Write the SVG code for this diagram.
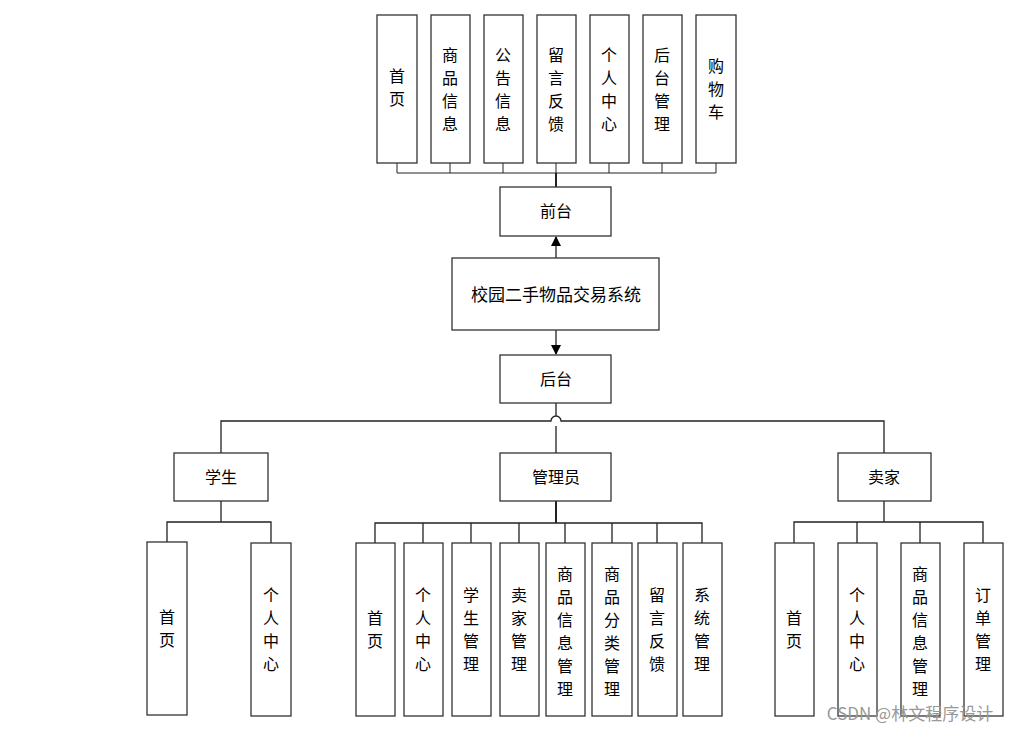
<svg xmlns="http://www.w3.org/2000/svg" width="1022" height="733" viewBox="0 0 1022 733">
<style>
rect{fill:#fff;stroke:#333;stroke-width:1.3}
text{font-family:"Noto Sans CJK SC",sans-serif;font-size:16px;fill:#000;text-anchor:middle}
.c{fill:none;stroke:#222;stroke-width:1.3}
</style>
<defs><marker id="a" viewBox="0 0 10 10" refX="9" refY="5" markerWidth="10" markerHeight="10" markerUnits="userSpaceOnUse" orient="auto"><path d="M0,0L10,5L0,10z" fill="#000"/></marker></defs>
<rect x="0" y="0" width="1022" height="733" style="fill:#fff;stroke:none"/>
<g id="connectors">
<path class="c" d="M397,163V173H716V163M450,163V173M503,163V173M556,163V173M609,163V173M662,163V173M556,173V187" style="stroke-width:1"/>
<path class="c" d="M556,173V187" style="stroke-width:2"/>
<path class="c" d="M556,258V237" marker-end="url(#a)"/>
<path class="c" d="M556,330V354" marker-end="url(#a)"/>
<path class="c" d="M556,403V416M221,453V421H551A5,5 0 0 1 561,421H884V453M556,426V453"/>
<path class="c" d="M221,501V522M167,542V522H271V543"/>
<path class="c" d="M375,543V523H702V543M423,523V543M471,523V543M519,523V543M565,523V543M612,523V543M657,523V543"/>
<path class="c" d="M556,501V523" style="stroke-width:2"/>
<path class="c" d="M884,501V522M794,543V522H983V543M857,522V543M920,522V543"/>
</g>
<g id="top">
<g id="n1"><rect x="377" y="15" width="40" height="148"/><text x="397" y="82">首</text><text x="397" y="105">页</text></g>
<g id="n2"><rect x="431" y="15" width="39" height="148"/><text x="450" y="61">商</text><text x="450" y="84">品</text><text x="450" y="107">信</text><text x="450" y="130">息</text></g>
<g id="n3"><rect x="484" y="15" width="39" height="148"/><text x="503" y="61">公</text><text x="503" y="84">告</text><text x="503" y="107">信</text><text x="503" y="130">息</text></g>
<g id="n4"><rect x="537" y="15" width="39" height="148"/><text x="556" y="61">留</text><text x="556" y="84">言</text><text x="556" y="107">反</text><text x="556" y="130">馈</text></g>
<g id="n5"><rect x="590" y="15" width="39" height="148"/><text x="609" y="61">个</text><text x="609" y="84">人</text><text x="609" y="107">中</text><text x="609" y="130">心</text></g>
<g id="n6"><rect x="643" y="15" width="39" height="148"/><text x="662" y="61">后</text><text x="662" y="84">台</text><text x="662" y="107">管</text><text x="662" y="130">理</text></g>
<g id="n7"><rect x="696" y="15" width="40" height="148"/><text x="716" y="72">购</text><text x="716" y="95">物</text><text x="716" y="118">车</text></g>
</g>
<g id="qt"><rect x="500" y="187" width="111" height="49"/><text x="556" y="217">前台</text></g>
<g id="main"><rect x="452" y="258" width="207" height="72"/><text x="556" y="301" style="font-size:17px">校园二手物品交易系统</text></g>
<g id="ht"><rect x="500" y="355" width="111" height="48"/><text x="556" y="385">后台</text></g>
<g id="xs"><rect x="174" y="453" width="94" height="48"/><text x="221" y="483">学生</text></g>
<g id="gly"><rect x="500" y="453" width="111" height="48"/><text x="556" y="483">管理员</text></g>
<g id="mj"><rect x="838" y="453" width="93" height="48"/><text x="884" y="483">卖家</text></g>
<g id="s1"><rect x="147" y="542" width="40" height="173"/><text x="167" y="623">首</text><text x="167" y="646">页</text></g>
<g id="s2"><rect x="251" y="543" width="40" height="173"/><text x="271" y="601">个</text><text x="271" y="624">人</text><text x="271" y="647">中</text><text x="271" y="670">心</text></g>
<g id="a1"><rect x="356" y="543" width="39" height="173"/><text x="375" y="624">首</text><text x="375" y="647">页</text></g>
<g id="a2"><rect x="404" y="543" width="39" height="173"/><text x="423" y="601">个</text><text x="423" y="624">人</text><text x="423" y="647">中</text><text x="423" y="670">心</text></g>
<g id="a3"><rect x="452" y="543" width="39" height="173"/><text x="471" y="601">学</text><text x="471" y="624">生</text><text x="471" y="647">管</text><text x="471" y="670">理</text></g>
<g id="a4"><rect x="500" y="543" width="39" height="173"/><text x="519" y="601">卖</text><text x="519" y="624">家</text><text x="519" y="647">管</text><text x="519" y="670">理</text></g>
<g id="a5"><rect x="546" y="543" width="39" height="173"/><text x="565" y="580">商</text><text x="565" y="603">品</text><text x="565" y="626">信</text><text x="565" y="649">息</text><text x="565" y="672">管</text><text x="565" y="695">理</text></g>
<g id="a6"><rect x="592" y="543" width="40" height="173"/><text x="612" y="580">商</text><text x="612" y="603">品</text><text x="612" y="626">分</text><text x="612" y="649">类</text><text x="612" y="672">管</text><text x="612" y="695">理</text></g>
<g id="a7"><rect x="638" y="543" width="39" height="173"/><text x="657" y="601">留</text><text x="657" y="624">言</text><text x="657" y="647">反</text><text x="657" y="670">馈</text></g>
<g id="a8"><rect x="683" y="543" width="39" height="173"/><text x="702" y="601">系</text><text x="702" y="624">统</text><text x="702" y="647">管</text><text x="702" y="670">理</text></g>
<g id="m1"><rect x="775" y="543" width="39" height="173"/><text x="794" y="624">首</text><text x="794" y="647">页</text></g>
<g id="m2"><rect x="838" y="543" width="39" height="173"/><text x="857" y="601">个</text><text x="857" y="624">人</text><text x="857" y="647">中</text><text x="857" y="670">心</text></g>
<g id="m3"><rect x="901" y="543" width="39" height="173"/><text x="920" y="580">商</text><text x="920" y="603">品</text><text x="920" y="626">信</text><text x="920" y="649">息</text><text x="920" y="672">管</text><text x="920" y="695">理</text></g>
<g id="m4"><rect x="964" y="543" width="39" height="173"/><text x="983" y="601">订</text><text x="983" y="624">单</text><text x="983" y="647">管</text><text x="983" y="670">理</text></g>
<text x="910" y="720" style="font-size:17px;fill:#999">CSDN @林文程序设计</text>
</svg>
